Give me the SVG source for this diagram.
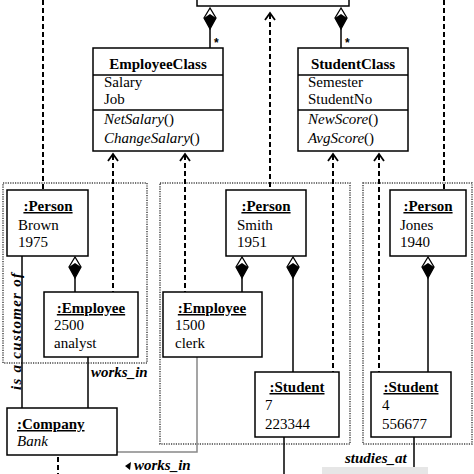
<svg xmlns="http://www.w3.org/2000/svg" width="474" height="474" viewBox="0 0 474 474">
<defs>
<style>
.box{fill:#fff;stroke:#000;stroke-width:1.5}
.t{font-family:"Liberation Serif","Times New Roman",serif;font-size:15px;fill:#000}
.b{font-weight:bold}
.i{font-style:italic}
.u{text-decoration:underline}
.star{font-family:"Liberation Sans",Arial,sans-serif;font-size:12px;font-weight:bold;fill:#000}
.dash{fill:none;stroke:#000;stroke-width:2;stroke-dasharray:5 3}
.dot{fill:none;stroke:#444;stroke-width:1.5;stroke-dasharray:1.2 1.2}
.ln{fill:none;stroke:#000;stroke-width:1.5}
.arr{fill:none;stroke:#000;stroke-width:1.8}
</style>
<g id="dia">
<polygon points="0,0 -6,10 0,21 6,10" fill="#fff" stroke="#000" stroke-width="1.3"/>
<polygon points="-6,10 0,6 6,10 0,21" fill="#000"/>
</g>
<path id="ah" d="M-5,7 L0,0 L5,7" class="arr"/>
</defs>

<g id="containers">
<rect x="3" y="183" width="144" height="180" class="dot"/>
<rect x="160" y="183" width="190" height="261" class="dot"/>
<rect x="363" y="183" width="109" height="261" class="dot"/>
</g>

<g id="connectors">
<line x1="43" y1="0" x2="43" y2="190" class="dash"/>
<line x1="444" y1="0" x2="444" y2="190" class="dash"/>
<line x1="270" y1="14" x2="270" y2="190" class="dash"/>
<use href="#ah" x="270" y="13"/>
<line x1="113" y1="155" x2="113" y2="292" class="dash"/>
<use href="#ah" x="113" y="154"/>
<line x1="185" y1="155" x2="185" y2="292" class="dash"/>
<use href="#ah" x="185" y="154"/>
<line x1="333" y1="155" x2="333" y2="372" class="dash"/>
<use href="#ah" x="333" y="154"/>
<line x1="379" y1="155" x2="379" y2="372" class="dash"/>
<use href="#ah" x="379" y="154"/>
<line x1="58" y1="457" x2="58" y2="474" class="dash"/>

<line x1="210" y1="28" x2="210" y2="48" class="ln"/>
<use href="#dia" x="210" y="8"/>
<text x="214" y="47" class="star">*</text>
<line x1="341" y1="28" x2="341" y2="48" class="ln"/>
<use href="#dia" x="341" y="8"/>
<text x="345" y="47" class="star">*</text>

<line x1="75" y1="276" x2="75" y2="292" class="ln"/>
<use href="#dia" x="75" y="257"/>
<line x1="242" y1="276" x2="242" y2="292" class="ln"/>
<use href="#dia" x="242" y="257"/>
<line x1="293" y1="276" x2="293" y2="372" class="ln"/>
<use href="#dia" x="293" y="257"/>
<line x1="428" y1="276" x2="428" y2="372" class="ln"/>
<use href="#dia" x="428" y="257"/>

<line x1="22" y1="256" x2="22" y2="408" class="ln"/>
<line x1="88" y1="357" x2="88" y2="408" class="ln"/>
<polyline points="117,452 197,452 197,357" fill="none" stroke="#888" stroke-width="1.5"/>
<line x1="284" y1="437" x2="284" y2="474" class="ln"/>
<line x1="414" y1="437" x2="414" y2="474" class="ln"/>

<text class="t b i" transform="translate(21,390) rotate(-90)" textLength="117" lengthAdjust="spacing">is a customer of</text>
<text x="91" y="377" class="t b i">works_in</text>
<polygon points="125,466 131,462 130,470" fill="#000"/>
<text x="134" y="470" class="t b i">works_in</text>
<text x="345" y="463" class="t b i">studies_at</text>
</g>

<g id="PersonClass">
<rect x="197" y="-5" width="152" height="11" class="box"/>
</g>
<rect x="322" y="467" width="106" height="8" fill="#e6e6e6"/>

<g id="EmployeeClass">
<rect x="93" y="48" width="130" height="103" class="box"/>
<line x1="93" y1="75" x2="223" y2="75" class="ln"/>
<line x1="93" y1="110" x2="223" y2="110" class="ln"/>
<text x="158" y="69" class="t b" text-anchor="middle">EmployeeClass</text>
<text x="104" y="87" class="t">Salary</text>
<text x="104" y="104" class="t">Job</text>
<text x="104" y="124" class="t"><tspan class="i">NetSalary</tspan>()</text>
<text x="104" y="143" class="t"><tspan class="i">ChangeSalary</tspan>()</text>
</g>

<g id="StudentClass">
<rect x="298" y="48" width="110" height="103" class="box"/>
<line x1="298" y1="75" x2="408" y2="75" class="ln"/>
<line x1="298" y1="110" x2="408" y2="110" class="ln"/>
<text x="353" y="69" class="t b" text-anchor="middle">StudentClass</text>
<text x="308" y="87" class="t">Semester</text>
<text x="308" y="104" class="t">StudentNo</text>
<text x="308" y="124" class="t"><tspan class="i">NewScore</tspan>()</text>
<text x="308" y="143" class="t"><tspan class="i">AvgScore</tspan>()</text>
</g>

<g id="PersonBrown">
<rect x="7" y="190" width="81" height="66" class="box"/>
<text x="48" y="211" class="t b u" text-anchor="middle">:Person</text>
<text x="18" y="230" class="t">Brown</text>
<text x="18" y="247" class="t">1975</text>
</g>

<g id="Employee1">
<rect x="44" y="292" width="94" height="65" class="box"/>
<text x="91" y="313" class="t b u" text-anchor="middle">:Employee</text>
<text x="54" y="330" class="t">2500</text>
<text x="54" y="348" class="t">analyst</text>
</g>

<g id="Company">
<rect x="7" y="408" width="110" height="47" class="box"/>
<text x="17" y="429" class="t b u">:Company</text>
<text x="17" y="446" class="t i">Bank</text>
</g>

<g id="PersonSmith">
<rect x="226" y="190" width="80" height="66" class="box"/>
<text x="266" y="211" class="t b u" text-anchor="middle">:Person</text>
<text x="237" y="230" class="t">Smith</text>
<text x="237" y="247" class="t">1951</text>
</g>

<g id="Employee2">
<rect x="163" y="292" width="99" height="65" class="box"/>
<text x="212" y="313" class="t b u" text-anchor="middle">:Employee</text>
<text x="175" y="330" class="t">1500</text>
<text x="175" y="348" class="t">clerk</text>
</g>

<g id="Student1">
<rect x="255" y="372" width="84" height="65" class="box"/>
<text x="297" y="392" class="t b u" text-anchor="middle">:Student</text>
<text x="265" y="410" class="t">7</text>
<text x="265" y="429" class="t">223344</text>
</g>

<g id="PersonJones">
<rect x="390" y="190" width="76" height="66" class="box"/>
<text x="428" y="211" class="t b u" text-anchor="middle">:Person</text>
<text x="400" y="230" class="t">Jones</text>
<text x="400" y="247" class="t">1940</text>
</g>

<g id="Student2">
<rect x="371" y="372" width="80" height="65" class="box"/>
<text x="411" y="392" class="t b u" text-anchor="middle">:Student</text>
<text x="382" y="410" class="t">4</text>
<text x="382" y="429" class="t">556677</text>
</g>
</svg>
